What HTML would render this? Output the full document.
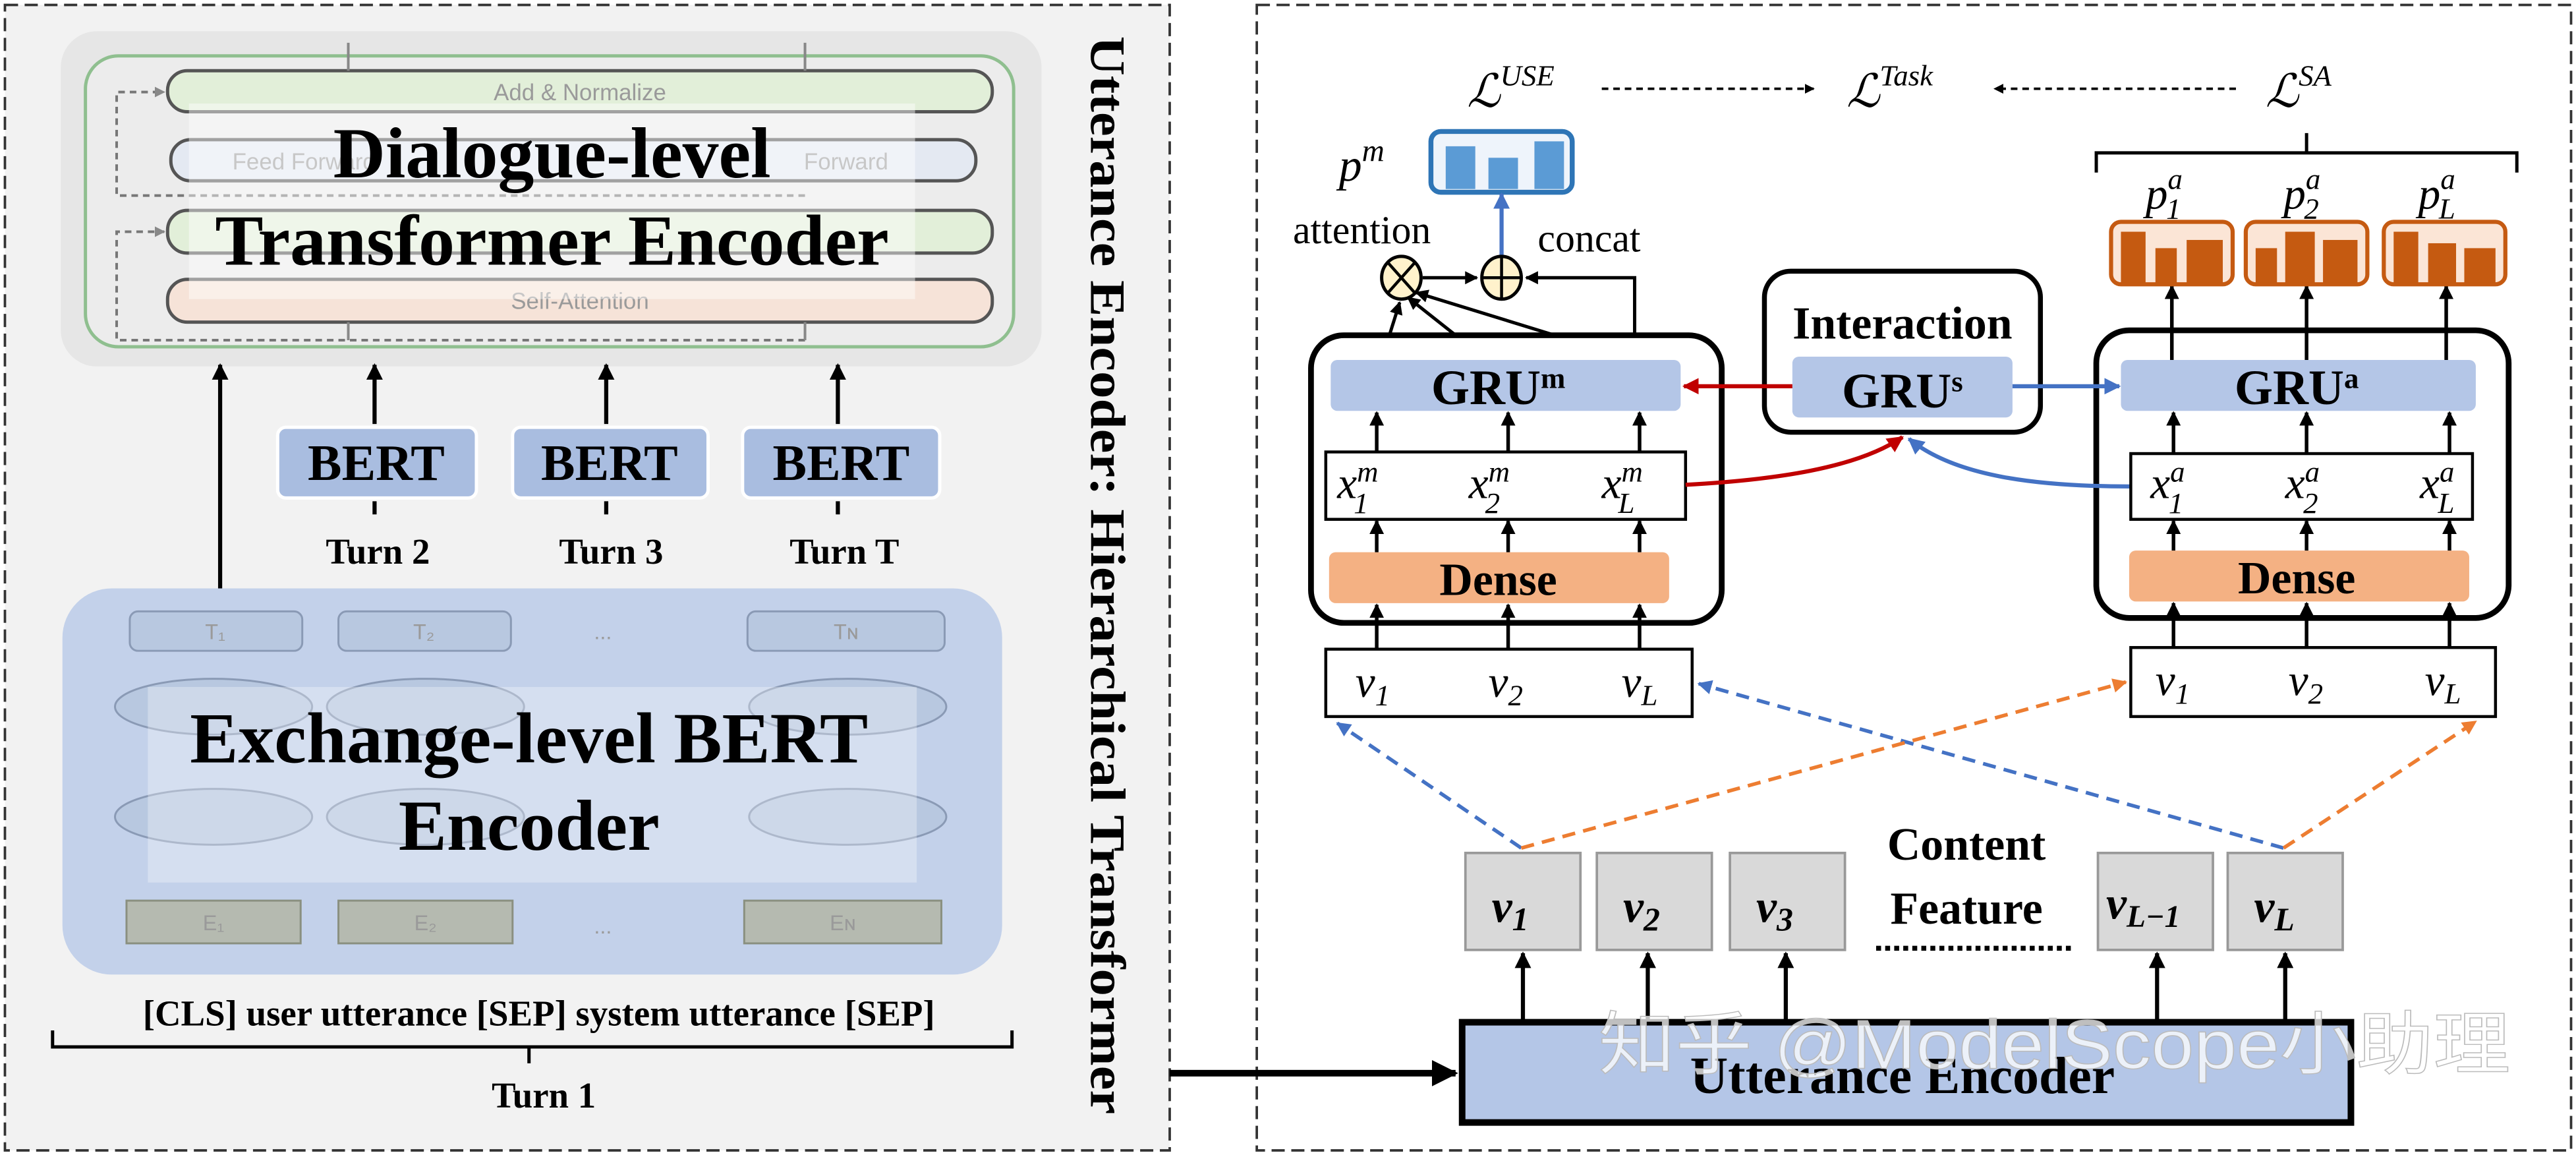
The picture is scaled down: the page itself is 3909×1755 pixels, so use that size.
<!DOCTYPE html>
<html><head><meta charset="utf-8"><style>
html,body{margin:0;padding:0;background:#fff}
svg{display:block}
.b{font-family:"Liberation Serif",serif;font-weight:bold}
.s{font-family:"Liberation Serif",serif}
.i{font-family:"Liberation Serif","DejaVu Serif",serif;font-style:italic}
.g{font-family:"Liberation Sans",sans-serif;fill:#9a9a9a}
</style></head><body>
<svg width="3909" height="1755" viewBox="0 0 1568 704" preserveAspectRatio="none" xmlns="http://www.w3.org/2000/svg">
<defs>
<marker id="ak" viewBox="0 0 10 10" refX="9" refY="5" markerWidth="4" markerHeight="4" orient="auto"><path d="M0,0L10,5L0,10z" fill="#000"/></marker>
<marker id="ar" viewBox="0 0 10 10" refX="9" refY="5" markerWidth="4" markerHeight="4" orient="auto"><path d="M0,0L10,5L0,10z" fill="#c00000"/></marker>
<marker id="ab" viewBox="0 0 10 10" refX="9" refY="5" markerWidth="4" markerHeight="4" orient="auto"><path d="M0,0L10,5L0,10z" fill="#4472c4"/></marker>
<marker id="ao" viewBox="0 0 10 10" refX="9" refY="5" markerWidth="4" markerHeight="4" orient="auto"><path d="M0,0L10,5L0,10z" fill="#ed7d31"/></marker>
<marker id="ag" viewBox="0 0 10 10" refX="9" refY="5" markerWidth="4" markerHeight="4" orient="auto"><path d="M0,0L10,5L0,10z" fill="#888"/></marker>
</defs>
<rect width="1568" height="704" fill="#fff"/>
<rect x="3" y="3" width="709" height="697" fill="#f2f2f2" stroke="#333" stroke-width="1.5" stroke-dasharray="8,4"/>
<rect x="37" y="19" width="597" height="204" rx="22" fill="#e6e6e6"/>
<rect x="52" y="34" width="565" height="177" rx="20" fill="#ececec" stroke="#8fbf8f" stroke-width="2"/>
<rect x="102" y="43" width="502" height="25" rx="12" fill="#e2efd9" stroke="#555" stroke-width="2"/>
<text x="353" y="61" class="g" font-size="14" text-anchor="middle">Add &amp; Normalize</text>
<rect x="104" y="85" width="490" height="25" rx="12" fill="#e4e9f2" stroke="#555" stroke-width="2"/>
<text x="185" y="103" class="g" font-size="14" text-anchor="middle">Feed Forward</text>
<text x="515" y="103" class="g" font-size="14" text-anchor="middle">Forward</text>
<rect x="102" y="128" width="502" height="26" rx="12" fill="#e2efd9" stroke="#555" stroke-width="2"/>
<rect x="102" y="170" width="502" height="26" rx="12" fill="#f6e3d8" stroke="#555" stroke-width="2"/>
<text x="353" y="188" class="g" font-size="14" text-anchor="middle">Self-Attention</text>
<path d="M490,119 H71 V56 H100" fill="none" stroke="#777" stroke-width="1.6" stroke-dasharray="4,3" marker-end="url(#ag)"/>
<path d="M490,207 H71 V141 H100" fill="none" stroke="#777" stroke-width="1.6" stroke-dasharray="4,3" marker-end="url(#ag)"/>
<g stroke="#888" stroke-width="1.6">
<line x1="212" y1="207" x2="212" y2="196"/><line x1="490" y1="207" x2="490" y2="196"/>
<line x1="212" y1="26" x2="212" y2="43"/><line x1="490" y1="26" x2="490" y2="43"/>
</g>
<rect x="115" y="63" width="442" height="119" fill="#fff" opacity="0.45"/>
<text x="336" y="108" class="b" font-size="44" text-anchor="middle">Dialogue-level</text>
<text x="336" y="161" class="b" font-size="44" text-anchor="middle">Transformer Encoder</text>
<g stroke="#000" stroke-width="2.5" marker-end="url(#ak)">
<line x1="134" y1="359" x2="134" y2="222"/>
<line x1="228" y1="258" x2="228" y2="222"/>
<line x1="369" y1="258" x2="369" y2="222"/>
<line x1="510" y1="258" x2="510" y2="222"/>
</g>
<g fill="#a9bde0" stroke="#fff" stroke-width="2">
<rect x="169" y="260" width="121" height="43" rx="5"/>
<rect x="312" y="260" width="119" height="43" rx="5"/>
<rect x="452" y="260" width="120" height="43" rx="5"/>
</g>
<g class="b" font-size="31" text-anchor="middle">
<text x="229" y="292">BERT</text><text x="371" y="292">BERT</text><text x="512" y="292">BERT</text>
</g>
<g stroke="#000" stroke-width="2.5"><line x1="228" y1="305" x2="228" y2="313"/><line x1="369" y1="305" x2="369" y2="313"/><line x1="510" y1="305" x2="510" y2="313"/></g>
<g class="b" font-size="22" text-anchor="middle">
<text x="230" y="343">Turn 2</text><text x="372" y="343">Turn 3</text><text x="514" y="343">Turn T</text>
</g>
<rect x="38" y="358" width="572" height="235" rx="30" fill="#c3d1ea"/>
<g fill="#b8c8e0" stroke="#8a9ab5" stroke-width="1.2">
<rect x="79" y="372" width="105" height="24" rx="5"/><rect x="206" y="372" width="105" height="24" rx="5"/><rect x="455" y="372" width="120" height="24" rx="5"/>
<ellipse cx="130" cy="430" rx="60" ry="17"/><ellipse cx="259" cy="430" rx="60" ry="17"/><ellipse cx="516" cy="430" rx="60" ry="17"/>
<ellipse cx="130" cy="497" rx="60" ry="17"/><ellipse cx="259" cy="497" rx="60" ry="17"/><ellipse cx="516" cy="497" rx="60" ry="17"/>
</g>
<g fill="#b5bab0" stroke="#8a9080" stroke-width="1.2">
<rect x="77" y="548" width="106" height="26"/><rect x="206" y="548" width="106" height="26"/><rect x="453" y="548" width="120" height="26"/>
</g>
<g class="g" font-size="13" text-anchor="middle">
<text x="131" y="389">T₁</text><text x="258" y="389">T₂</text><text x="515" y="389">Tɴ</text><text x="367" y="389">...</text>
<text x="130" y="566">E₁</text><text x="259" y="566">E₂</text><text x="513" y="566">Eɴ</text><text x="367" y="568">...</text>
</g>
<rect x="90" y="418" width="468" height="119" fill="#fff" opacity="0.3"/>
<text x="322" y="464" class="b" font-size="44" text-anchor="middle">Exchange-level BERT</text>
<text x="322" y="517" class="b" font-size="44" text-anchor="middle">Encoder</text>
<text x="328" y="624" class="b" font-size="22" text-anchor="middle">[CLS] user utterance [SEP] system utterance [SEP]</text>
<path d="M32,627 V637 H322 V647 M322,637 H616 V627" fill="none" stroke="#000" stroke-width="2"/>
<text x="331" y="674" class="b" font-size="22" text-anchor="middle">Turn 1</text>
<text transform="translate(664,22) rotate(90)" class="b" font-size="30" textLength="656" lengthAdjust="spacingAndGlyphs">Utterance Encoder: Hierarchical Transformer</text>
<rect x="765" y="3" width="800" height="697" fill="#fff" stroke="#333" stroke-width="1.5" stroke-dasharray="8,4"/>
<line x1="712" y1="653" x2="886" y2="653" stroke="#000" stroke-width="4" marker-end="url(#ak)"/>
<g class="i" font-size="28">
<text x="893" y="65">ℒ<tspan font-size="18" dy="-13">USE</tspan></text>
<text x="1124" y="65">ℒ<tspan font-size="18" dy="-13">Task</tspan></text>
<text x="1379" y="65">ℒ<tspan font-size="18" dy="-13">SA</tspan></text>
</g>
<line x1="975" y1="54" x2="1104" y2="54" stroke="#000" stroke-width="1.5" stroke-dasharray="4,3" marker-end="url(#ak)"/>
<line x1="1361" y1="54" x2="1214" y2="54" stroke="#000" stroke-width="1.5" stroke-dasharray="4,3" marker-end="url(#ak)"/>
<path d="M1276,105 V93 H1404 V81 M1404,93 H1532 V105" fill="none" stroke="#000" stroke-width="2"/>
<text x="815" y="110" class="i" font-size="28">p<tspan font-size="19" dy="-12">m</tspan></text>
<rect x="871" y="80" width="86" height="37" rx="6" fill="#eef4fb" stroke="#2e75b6" stroke-width="3"/>
<rect x="880" y="89" width="18" height="26" fill="#5b9bd5"/><rect x="906" y="96" width="18" height="19" fill="#5b9bd5"/><rect x="934" y="86" width="18" height="29" fill="#5b9bd5"/>
<line x1="914" y1="157" x2="914" y2="118" stroke="#4472c4" stroke-width="2.5" marker-end="url(#ab)"/>
<text x="787" y="148" class="s" font-size="24">attention</text>
<text x="936" y="153" class="s" font-size="24">concat</text>
<g stroke="#000" stroke-width="2" marker-end="url(#ak)" fill="none">
<line x1="841" y1="219" x2="852" y2="184"/>
<line x1="905" y1="219" x2="857" y2="181"/>
<line x1="995" y1="219" x2="862" y2="178"/>
<line x1="866" y1="169" x2="899" y2="169"/>
<path d="M995,219 V169 H929"/>
</g>
<ellipse cx="853" cy="169" rx="12" ry="13" fill="#fff2cc" stroke="#000" stroke-width="2"/>
<path d="M845,160 L861,178 M861,160 L845,178" stroke="#000" stroke-width="1.8"/>
<ellipse cx="914" cy="169" rx="12" ry="13" fill="#fff2cc" stroke="#000" stroke-width="2"/>
<path d="M902,169 H926 M914,156 V182" stroke="#000" stroke-width="1.8"/>
<rect x="798" y="204" width="250" height="175" rx="20" fill="#fff" stroke="#000" stroke-width="3.5"/>
<rect x="810" y="219" width="213" height="31" rx="4" fill="#b4c6e7"/>
<text x="912" y="246" class="b" font-size="30" text-anchor="middle">GRU<tspan font-size="18" dy="-10">m</tspan></text>
<rect x="807" y="275" width="219" height="41" fill="#fff" stroke="#000" stroke-width="1.8"/>
<rect x="809" y="336" width="207" height="31" rx="4" fill="#f4b183"/>
<text x="912" y="362" class="b" font-size="28" text-anchor="middle">Dense</text>
<rect x="807" y="395" width="223" height="41" fill="#fff" stroke="#000" stroke-width="1.8"/>
<g class="i" font-size="27">
<text x="814" y="303">x<tspan font-size="18" dy="-10">m</tspan><tspan font-size="18" dx="-15" dy="19">1</tspan></text>
<text x="894" y="303">x<tspan font-size="18" dy="-10">m</tspan><tspan font-size="18" dx="-15" dy="19">2</tspan></text>
<text x="975" y="303">x<tspan font-size="18" dy="-10">m</tspan><tspan font-size="18" dx="-15" dy="19">L</tspan></text>
<text x="825" y="424">v<tspan font-size="18" dy="5">1</tspan></text>
<text x="906" y="424">v<tspan font-size="18" dy="5">2</tspan></text>
<text x="987" y="424">v<tspan font-size="18" dy="5">L</tspan></text>
</g>
<g stroke="#000" stroke-width="2.2" marker-end="url(#ak)">
<line x1="838" y1="395" x2="838" y2="368"/><line x1="918" y1="395" x2="918" y2="368"/><line x1="998" y1="395" x2="998" y2="368"/>
<line x1="838" y1="336" x2="838" y2="317"/><line x1="918" y1="336" x2="918" y2="317"/><line x1="998" y1="336" x2="998" y2="317"/>
<line x1="838" y1="275" x2="838" y2="251"/><line x1="918" y1="275" x2="918" y2="251"/><line x1="998" y1="275" x2="998" y2="251"/>
</g>
<rect x="1074" y="165" width="168" height="98" rx="16" fill="#fff" stroke="#000" stroke-width="3"/>
<text x="1158" y="206" class="b" font-size="28" text-anchor="middle">Interaction</text>
<rect x="1091" y="217" width="134" height="37" rx="4" fill="#b4c6e7"/>
<text x="1158" y="248" class="b" font-size="30" text-anchor="middle">GRU<tspan font-size="18" dy="-10">s</tspan></text>
<line x1="1091" y1="235" x2="1025" y2="235" stroke="#c00000" stroke-width="2.5" marker-end="url(#ar)"/>
<path d="M1026,295 C1080,292 1130,285 1158,266" fill="none" stroke="#c00000" stroke-width="2.5" marker-end="url(#ar)"/>
<rect x="1276" y="201" width="251" height="175" rx="20" fill="#fff" stroke="#000" stroke-width="3.5"/>
<rect x="1291" y="219" width="216" height="31" rx="4" fill="#b4c6e7"/>
<text x="1398" y="246" class="b" font-size="30" text-anchor="middle">GRU<tspan font-size="18" dy="-10">a</tspan></text>
<line x1="1225" y1="235" x2="1290" y2="235" stroke="#4472c4" stroke-width="2.5" marker-end="url(#ab)"/>
<path d="M1297,296 C1240,296 1190,290 1162,267" fill="none" stroke="#4472c4" stroke-width="2.5" marker-end="url(#ab)"/>
<rect x="1297" y="276" width="208" height="40" fill="#fff" stroke="#000" stroke-width="1.8"/>
<rect x="1296" y="335" width="207" height="31" rx="4" fill="#f4b183"/>
<text x="1398" y="361" class="b" font-size="28" text-anchor="middle">Dense</text>
<rect x="1297" y="394" width="222" height="42" fill="#fff" stroke="#000" stroke-width="1.8"/>
<g class="i" font-size="27">
<text x="1309" y="303">x<tspan font-size="18" dy="-10">a</tspan><tspan font-size="18" dx="-10" dy="19">1</tspan></text>
<text x="1391" y="303">x<tspan font-size="18" dy="-10">a</tspan><tspan font-size="18" dx="-10" dy="19">2</tspan></text>
<text x="1473" y="303">x<tspan font-size="18" dy="-10">a</tspan><tspan font-size="18" dx="-10" dy="19">L</tspan></text>
<text x="1312" y="423">v<tspan font-size="18" dy="5">1</tspan></text>
<text x="1393" y="423">v<tspan font-size="18" dy="5">2</tspan></text>
<text x="1476" y="423">v<tspan font-size="18" dy="5">L</tspan></text>
<text x="1306" y="127">p<tspan font-size="18" dy="-12">a</tspan><tspan font-size="18" dx="-10" dy="18">1</tspan></text>
<text x="1390" y="127">p<tspan font-size="18" dy="-12">a</tspan><tspan font-size="18" dx="-10" dy="18">2</tspan></text>
<text x="1472" y="127">p<tspan font-size="18" dy="-12">a</tspan><tspan font-size="18" dx="-10" dy="18">L</tspan></text>
</g>
<g stroke="#000" stroke-width="2.2" marker-end="url(#ak)">
<line x1="1323" y1="394" x2="1323" y2="367"/><line x1="1404" y1="394" x2="1404" y2="367"/><line x1="1491" y1="394" x2="1491" y2="367"/>
<line x1="1323" y1="335" x2="1323" y2="317"/><line x1="1404" y1="335" x2="1404" y2="317"/><line x1="1491" y1="335" x2="1491" y2="317"/>
<line x1="1323" y1="276" x2="1323" y2="251"/><line x1="1404" y1="276" x2="1404" y2="251"/><line x1="1491" y1="276" x2="1491" y2="251"/>
<line x1="1322" y1="219" x2="1322" y2="174"/><line x1="1404" y1="219" x2="1404" y2="174"/><line x1="1489" y1="219" x2="1489" y2="174"/>
</g>
<g fill="#fbe5d6" stroke="#c55a11" stroke-width="2.5">
<rect x="1285" y="135" width="74" height="38" rx="6"/><rect x="1367" y="135" width="74" height="38" rx="6"/><rect x="1451" y="135" width="74" height="38" rx="6"/>
</g>
<g fill="#c55a11">
<rect x="1291" y="141" width="15" height="31"/><rect x="1312" y="151" width="13" height="21"/><rect x="1331" y="146" width="22" height="26"/>
<rect x="1373" y="151" width="13" height="21"/><rect x="1391" y="141" width="18" height="31"/><rect x="1414" y="146" width="21" height="26"/>
<rect x="1457" y="141" width="15" height="31"/><rect x="1478" y="148" width="17" height="24"/><rect x="1500" y="151" width="19" height="21"/>
</g>
<g stroke-width="2.2" stroke-dasharray="8,5" fill="none">
<line x1="926" y1="516" x2="814" y2="440" stroke="#4472c4" marker-end="url(#ab)"/>
<line x1="1390" y1="516" x2="1034" y2="416" stroke="#4472c4" marker-end="url(#ab)"/>
<line x1="926" y1="516" x2="1294" y2="415" stroke="#ed7d31" marker-end="url(#ao)"/>
<line x1="1390" y1="516" x2="1507" y2="439" stroke="#ed7d31" marker-end="url(#ao)"/>
</g>
<g fill="#d9d9d9" stroke="#999" stroke-width="1.5">
<rect x="892" y="519" width="70" height="59"/><rect x="972" y="519" width="70" height="59"/><rect x="1053" y="519" width="70" height="59"/><rect x="1277" y="519" width="70" height="59"/><rect x="1356" y="519" width="70" height="59"/>
</g>
<g class="i" font-size="28" font-weight="bold">
<text x="908" y="561">v<tspan font-size="20" dy="5">1</tspan></text>
<text x="988" y="561">v<tspan font-size="20" dy="5">2</tspan></text>
<text x="1069" y="561">v<tspan font-size="20" dy="5">3</tspan></text>
<text x="1282" y="559">v<tspan font-size="19" dy="5">L−1</tspan></text>
<text x="1372" y="561">v<tspan font-size="20" dy="5">L</tspan></text>
</g>
<text x="1197" y="523" class="b" font-size="28" text-anchor="middle">Content</text>
<text x="1197" y="562" class="b" font-size="28" text-anchor="middle">Feature</text>
<line x1="1142" y1="577" x2="1261" y2="577" stroke="#000" stroke-width="3" stroke-dasharray="3,2.5"/>
<g stroke="#000" stroke-width="2.5" marker-end="url(#ak)">
<line x1="927" y1="622" x2="927" y2="580"/><line x1="1003" y1="622" x2="1003" y2="580"/><line x1="1087" y1="622" x2="1087" y2="580"/><line x1="1313" y1="622" x2="1313" y2="580"/><line x1="1391" y1="622" x2="1391" y2="580"/>
</g>
<rect x="890" y="622" width="541" height="61" fill="#b4c6e7" stroke="#000" stroke-width="4"/>
<text x="1158" y="665" class="b" font-size="32" text-anchor="middle">Utterance Encoder</text>
<text x="973" y="650" font-family="'Liberation Sans','Noto Sans CJK SC',sans-serif" font-size="42" fill="#fff" fill-opacity="0.75" stroke="#bbb" stroke-width="0.6" textLength="555" lengthAdjust="spacingAndGlyphs">知乎 @ModelScope小助理</text>
</svg>
</body></html>
